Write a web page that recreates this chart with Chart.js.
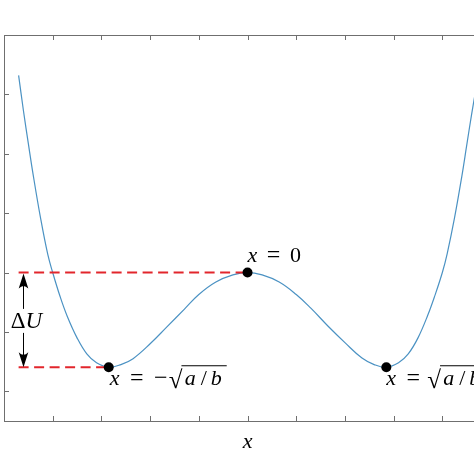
<!DOCTYPE html>
<html><head><meta charset="utf-8">
<script src="https://cdn.jsdelivr.net/npm/chart.js@4"></script>
<style>html,body{margin:0;padding:0;background:#fff;overflow:hidden}</style>
</head><body>
<canvas id="c" width="474" height="474"></canvas>
<script>
// ---- data ----
const xValues = [-4.70,-4.60,-4.50,-4.40,-4.25,-4.10,-4.00,-3.85,-3.70,-3.50,-3.30,-3.10,-2.85,-2.60,-2.35,-2.00,-1.65,-1.30,-1.00,-0.65,-0.30,0.00,
                  0.30,0.65,1.00,1.30,1.65,2.00,2.35,2.60,2.85,3.10,3.30,3.50,3.70,3.85,4.00,4.10,4.25,4.40,4.50,4.60,4.70];
const uValues = [5.32,4.72,4.17,3.64,2.92,2.30,2.00,1.60,1.26,0.90,0.63,0.48,0.405,0.45,0.55,0.80,1.09,1.38,1.63,1.84,1.96,2.00,
                  1.96,1.84,1.63,1.40,1.10,0.82,0.56,0.45,0.405,0.48,0.63,0.90,1.28,1.62,2.00,2.32,2.92,3.62,4.14,4.66,5.14];
const extremaX = [-2.85, 0, 2.85];
const extremaU = [0.405, 2.00, 0.405];
const barrierLineX = [-4.70, 0];
const barrierLineU = [2.00, 2.00];
const wellLineX = [-4.70, -2.85];
const wellLineU = [0.405, 0.405];
const xTicks = [-5,-4,-3,-2,-1,0,1,2,3,4];
const yTicks = [0,1,2,3,4,5,6];
const xRange = [-5, 4.65];
const yRange = [-0.5, 6];
const arrowX = -4.6;
const axisTitle = 'x';

const axisColor = '#6f6f6f';
const curveColor = '#4b92c3';
const redColor = '#e2262c';

const pts = (xs, ys) => xs.map((x, i) => ({x, y: ys[i]}));

const baseScale = (pos, min, max, ticksArr, horiz) => ({
  type: 'linear', position: pos, min, max, display: true,
  ticks: {display: false},
  grid: {display: false, drawTicks: false, drawOnChartArea: false},
  border: {display: true, color: axisColor, width: 1},
  afterBuildTicks: s => { s.ticks = ticksArr.map(v => ({value: v})); },
  afterFit: s => { if (horiz) s.height = 0; else s.width = 0; }
});

const SERIF = '"Liberation Serif", "DejaVu Serif", serif';
function piece(ctx, t, x, y, size, italic) {
  ctx.font = (italic ? 'italic ' : '') + size + 'px ' + SERIF;
  ctx.fillText(t, x, y);
}
function centered(ctx, t, cx, y, size, italic) {
  ctx.font = (italic ? 'italic ' : '') + size + 'px ' + SERIF;
  const w = ctx.measureText(t).width;
  ctx.fillText(t, cx - w / 2, y);
}
function sqrtLabel(ctx, L, B, rootOff, withMinus) {
  piece(ctx, 'x', L, B, 22, true);
  centered(ctx, '=', L + 27, B, 24, false);
  if (withMinus) centered(ctx, '\u2212', L + 51, B, 24, false);
  const R = L + rootOff;
  ctx.font = '25px ' + SERIF;
  ctx.fillText('\u221A', R - 1, B + 3);
  const rw = ctx.measureText('\u221A').width;
  piece(ctx, 'a', R + 15, B, 22, true);
  centered(ctx, '/', R + 34, B, 22, false);
  piece(ctx, 'b', R + 41, B, 22, true);
  ctx.save();
  ctx.strokeStyle = '#000';
  ctx.lineWidth = 1.1;
  ctx.beginPath();
  ctx.moveTo(R - 1 + rw - 1, B - 19.5);
  ctx.lineTo(R + 57, B - 19.5);
  ctx.stroke();
  ctx.restore();
}
function arrowHead(ctx, x, tipY, dir) {
  ctx.beginPath();
  ctx.moveTo(x, tipY);
  ctx.lineTo(x - 4.8, tipY + dir * 15);
  ctx.quadraticCurveTo(x, tipY + dir * 10, x + 4.8, tipY + dir * 15);
  ctx.closePath();
  ctx.fill();
}

const decor = {
  id: 'decor',
  afterDraw(chart) {
    const ctx = chart.ctx;
    const xs = chart.scales.x, ys = chart.scales.y;
    const a = chart.chartArea;
    ctx.save();
    ctx.strokeStyle = axisColor;
    ctx.lineWidth = 1;
    ctx.beginPath();
    xs.ticks.forEach(t => {
      const px = Math.round(xs.getPixelForValue(t.value)) + 0.5;
      ctx.moveTo(px, a.bottom); ctx.lineTo(px, a.bottom - 5);
      ctx.moveTo(px, a.top); ctx.lineTo(px, a.top + 5);
    });
    ys.ticks.forEach(t => {
      const py = Math.round(ys.getPixelForValue(t.value)) + 0.5;
      ctx.moveTo(a.left, py); ctx.lineTo(a.left + 5, py);
    });
    ctx.stroke();

    ctx.fillStyle = '#000';
    ctx.textBaseline = 'alphabetic';
    centered(ctx, axisTitle, xs.getPixelForValue(0), 448, 22, true);

    const p0x = xs.getPixelForValue(extremaX[1]), p0y = ys.getPixelForValue(extremaU[1]);
    piece(ctx, 'x', p0x, p0y - 11, 22, true);
    centered(ctx, '=', p0x + 26, p0y - 11, 24, false);
    centered(ctx, '0', p0x + 48, p0y - 11, 22, false);

    const pLx = xs.getPixelForValue(extremaX[0]), pLy = ys.getPixelForValue(extremaU[0]);
    sqrtLabel(ctx, pLx + 1, pLy + 18, 60, true);
    const pRx = xs.getPixelForValue(extremaX[2]), pRy = ys.getPixelForValue(extremaU[2]);
    sqrtLabel(ctx, pRx, pRy + 18, 42, false);

    const ax = Math.round(xs.getPixelForValue(arrowX)) + 0.5;
    const yTop = ys.getPixelForValue(barrierLineU[0]);
    const yBot = ys.getPixelForValue(wellLineU[0]);
    const mid = (yTop + yBot) / 2;
    ctx.strokeStyle = '#000';
    ctx.lineWidth = 1;
    ctx.beginPath();
    ctx.moveTo(ax, yTop + 12); ctx.lineTo(ax, mid - 11);
    ctx.moveTo(ax, mid + 13); ctx.lineTo(ax, yBot - 12);
    ctx.stroke();
    arrowHead(ctx, ax, yTop + 1, 1);
    arrowHead(ctx, ax, yBot, -1);
    ctx.font = '23px ' + SERIF;
    const wD = ctx.measureText('\u0394').width;
    ctx.font = 'italic 23px ' + SERIF;
    const wU = ctx.measureText('U').width;
    const sx = ax - (wD + wU) / 2 + 3;
    piece(ctx, '\u0394', sx, mid + 8, 23, false);
    piece(ctx, 'U', sx + wD, mid + 8, 23, true);
    ctx.restore();
  }
};

new Chart(document.getElementById('c'), {
  type: 'line',
  data: {
    datasets: [
      {data: pts(extremaX, extremaU), showLine: false, pointRadius: 5, pointBackgroundColor: '#000',
       pointBorderColor: '#000', pointBorderWidth: 0, order: 0},
      {data: pts(barrierLineX, barrierLineU), borderColor: redColor, borderWidth: 2, borderDash: [10, 5.5],
       pointRadius: 0, order: 1},
      {data: pts(wellLineX, wellLineU), borderColor: redColor, borderWidth: 2, borderDash: [10, 5.5],
       pointRadius: 0, order: 1},
      {data: pts(xValues, uValues), borderColor: curveColor, borderWidth: 1.2, pointRadius: 0,
       tension: 0.4, order: 2}
    ]
  },
  options: {
    responsive: false, animation: false, devicePixelRatio: 1,
    layout: {autoPadding: false, padding: {left: 4, right: 0, top: 35, bottom: 53}},
    plugins: {legend: {display: false}, tooltip: {enabled: false}},
    scales: {
      x: baseScale('bottom', xRange[0], xRange[1], xTicks, true),
      x2: baseScale('top', xRange[0], xRange[1], xTicks, true),
      y: baseScale('left', yRange[0], yRange[1], yTicks, false)
    }
  },
  plugins: [decor]
});
</script>
</body></html>
